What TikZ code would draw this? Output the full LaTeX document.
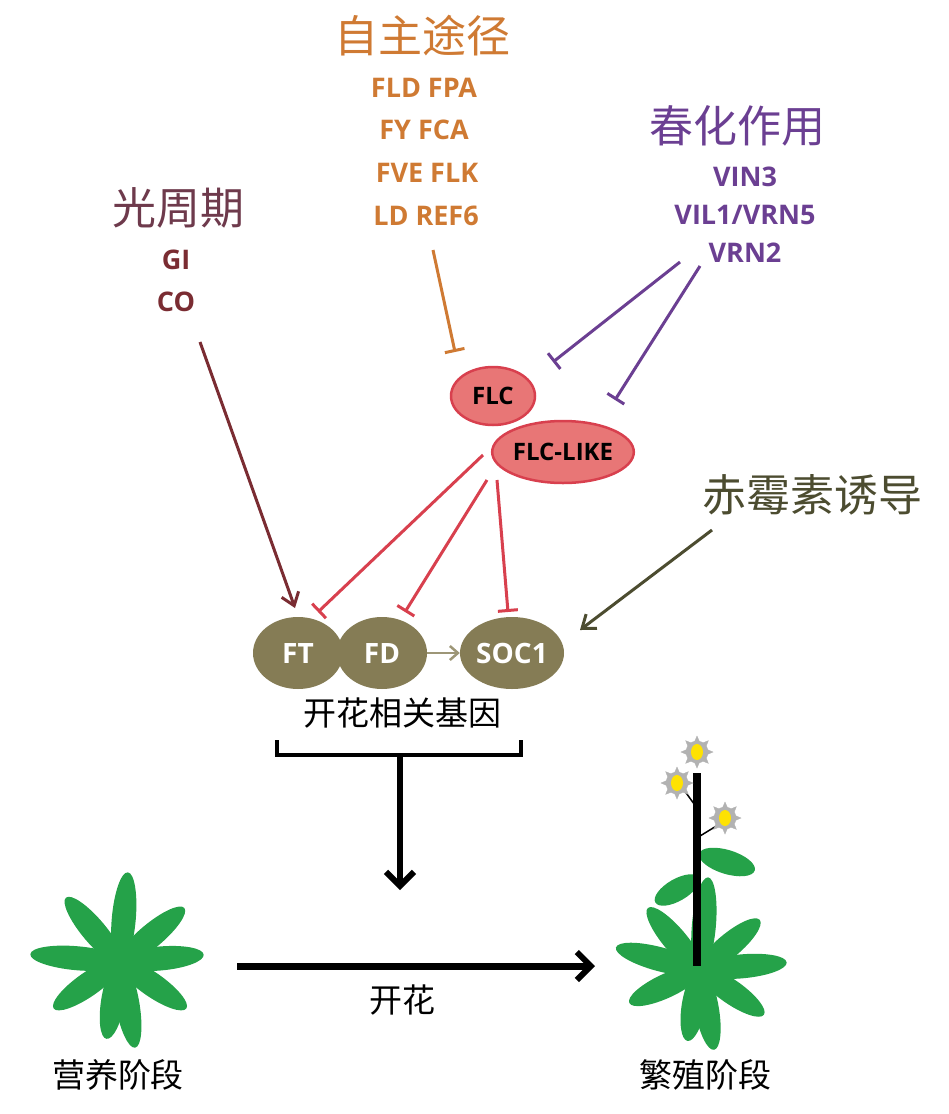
\documentclass[tikz,border=0pt]{standalone}
\usepackage{fontspec}
\setmainfont{Noto Sans CJK SC}
\newfontfamily\lab{Open Sans}
\usetikzlibrary{arrows.meta}
\definecolor{photo}{HTML}{6E3A4C}
\definecolor{photogene}{HTML}{7A2C32}
\definecolor{auto}{HTML}{CF7A33}
\definecolor{vern}{HTML}{6B3F92}
\definecolor{gib}{HTML}{4C4C30}
\definecolor{flcfill}{HTML}{E87676}
\definecolor{flcline}{HTML}{D8404E}
\definecolor{olive}{HTML}{857C55}
\definecolor{leafgreen}{HTML}{25A249}
\tikzset{
  title/.style={font=\fontsize{44}{48}\selectfont},
  gene/.style={font=\lab\bfseries\fontsize{27}{30}\selectfont},
  repress/.style={-{Bar[width=20pt,line width=3pt]},line width=3pt},
  promote/.style={-{Straight Barb[length=12pt,width=18pt,line width=3pt]},line width=3pt},
  flc/.style={ellipse,draw=flcline,fill=flcfill,line width=2.5pt,inner sep=0pt,font=\lab\bfseries\fontsize{24}{26}\selectfont},
  target/.style={ellipse,fill=olive,text=white,inner sep=0pt,font=\lab\bfseries\fontsize{28}{30}\selectfont},
  leaf/.style={fill=leafgreen},
  flower/.style={fill=gray!60,draw=gray!60},
}
\usetikzlibrary{shapes.geometric}
\begin{document}
\begin{tikzpicture}[x=1pt,y=-1pt]
  \useasboundingbox (0,0) rectangle (948,1114);
  % pathway titles
  \node[title,text=photo] (photo) at (178,208) {光周期};
  \node[gene,text=photogene] (gi) at (176,260) {GI};
  \node[gene,text=photogene] (co) at (176,302) {CO};

  \node[title,text=auto] (auto) at (422,36) {自主途径};
  \node[gene,text=auto] (a1) at (424,88) {FLD FPA};
  \node[gene,text=auto] (a2) at (424,130) {FY FCA};
  \node[gene,text=auto] (a3) at (427,173) {FVE FLK};
  \node[gene,text=auto] (a4) at (426,216) {LD REF6};

  \node[title,text=vern] (vern) at (737,126) {春化作用};
  \node[gene,text=vern] (v1) at (745,177) {VIN3};
  \node[gene,text=vern] (v2) at (745,215) {VIL1/VRN5};
  \node[gene,text=vern] (v3) at (745,253) {VRN2};

  \node[title,text=gib] (gib) at (812,495) {赤霉素诱导};

  % repressors
  \node[flc,minimum width=84pt,minimum height=58pt] (flc) at (493,396) {FLC};
  \node[flc,minimum width=136pt,minimum height=62pt] (flclike) at (563,452) {FLC-LIKE};

  % flowering genes
  \node[target,minimum width=90pt,minimum height=72pt] (ft) at (298,653) {FT};
  \node[target,minimum width=90pt,minimum height=72pt] (fd) at (382,653) {FD};
  \node[target,minimum width=104pt,minimum height=72pt] (soc) at (512,653) {SOC1};
  \node[font=\fontsize{33}{36}\selectfont] (genes) at (402,713) {开花相关基因};

  \coordinate (a4b) at (433,250);
  \coordinate (v3a) at (680,262);
  \coordinate (v3b) at (700,266);
  \coordinate (gibs) at (712,530);
  \coordinate (gibe) at (580,630);
  \coordinate (cos) at (200,342);
  \draw[repress,draw=auto] (a4b) -- (455,352);
  \draw[repress,draw=vern] (v3a) -- (553,362);
  \draw[repress,draw=vern] (v3b) -- (615,400);
  \draw[promote,draw=photogene] (cos) -- (295,608);
  \draw[repress,draw=flcline] (483,455) -- (318,612);
  \draw[repress,draw=flcline] (487,480) -- (405,612);
  \draw[repress,draw=flcline] (497,480) -- (508,612);
  \draw[promote,draw=gib] (gibs) -- (gibe);
  \draw[-{Straight Barb[length=8pt,width=14pt,line width=2.5pt]},line width=2.5pt,draw=olive!80] (fd.east) -- (soc.west);

  % bracket and main arrows
  \draw[line width=4pt] (277,740) -- (277,755) -- (521,755) -- (521,740);
  \coordinate (stem) at (400,755);
  \coordinate (down) at (400,890);
  \draw[line width=6pt,-{Straight Barb[length=14pt,width=28pt,line width=6pt]}] (stem) -- (down);
  \coordinate (veg) at (237,966);
  \coordinate (rep) at (595,966);
  \draw[line width=7pt,-{Straight Barb[length=14pt,width=28pt,line width=6pt]}] (veg) -- (rep);
  \node[font=\fontsize{33}{36}\selectfont] (flowering) at (402,1000) {开花};

  % vegetative rosette
  \foreach \a/\r in {-80/58,-35/54,5/56,40/56,85/60,130/56,175/60,215/54,260/52} {
    \fill[leaf,shift={(120,962)},rotate=\a] (\r*0.72,0) ellipse ({\r*0.78} and 12);
  }
  \node[font=\fontsize{33}{36}\selectfont] (vegtext) at (118,1075) {营养阶段};

  % reproductive plant
  \foreach \a/\r in {-80/54,-35/52,5/58,40/52,85/62,130/54,165/58,205/52,260/48} {
    \fill[leaf,shift={(700,970)},rotate=\a] (\r*0.72,0) ellipse ({\r*0.78} and 12);
  }
  \fill[leaf,rotate around={-17:(727,862)}] (727,862) ellipse (29 and 12);
  \fill[leaf,rotate around={30:(677,890)}] (677,890) ellipse (25 and 11);
  \draw[line width=1.5pt] (697,808) -- (684,790);
  \draw[line width=1.5pt] (700,836) -- (718,825);
  \draw[line width=8pt] (697,773) -- (697,966);
  \foreach \x/\y in {697/752,677/783,725/818} {
    \fill[flower] (\x,\y) circle (11);
    \foreach \b in {0,45,...,315} \fill[flower,shift={(\x,\y)},rotate=\b] (9,-3) -- (16,0) -- (9,3) -- cycle;
    \fill[yellow!85!orange] (\x,\y) ellipse (6 and 8);
  }
  \node[font=\fontsize{33}{36}\selectfont] (reptext) at (705,1075) {繁殖阶段};
\end{tikzpicture}
\end{document}
